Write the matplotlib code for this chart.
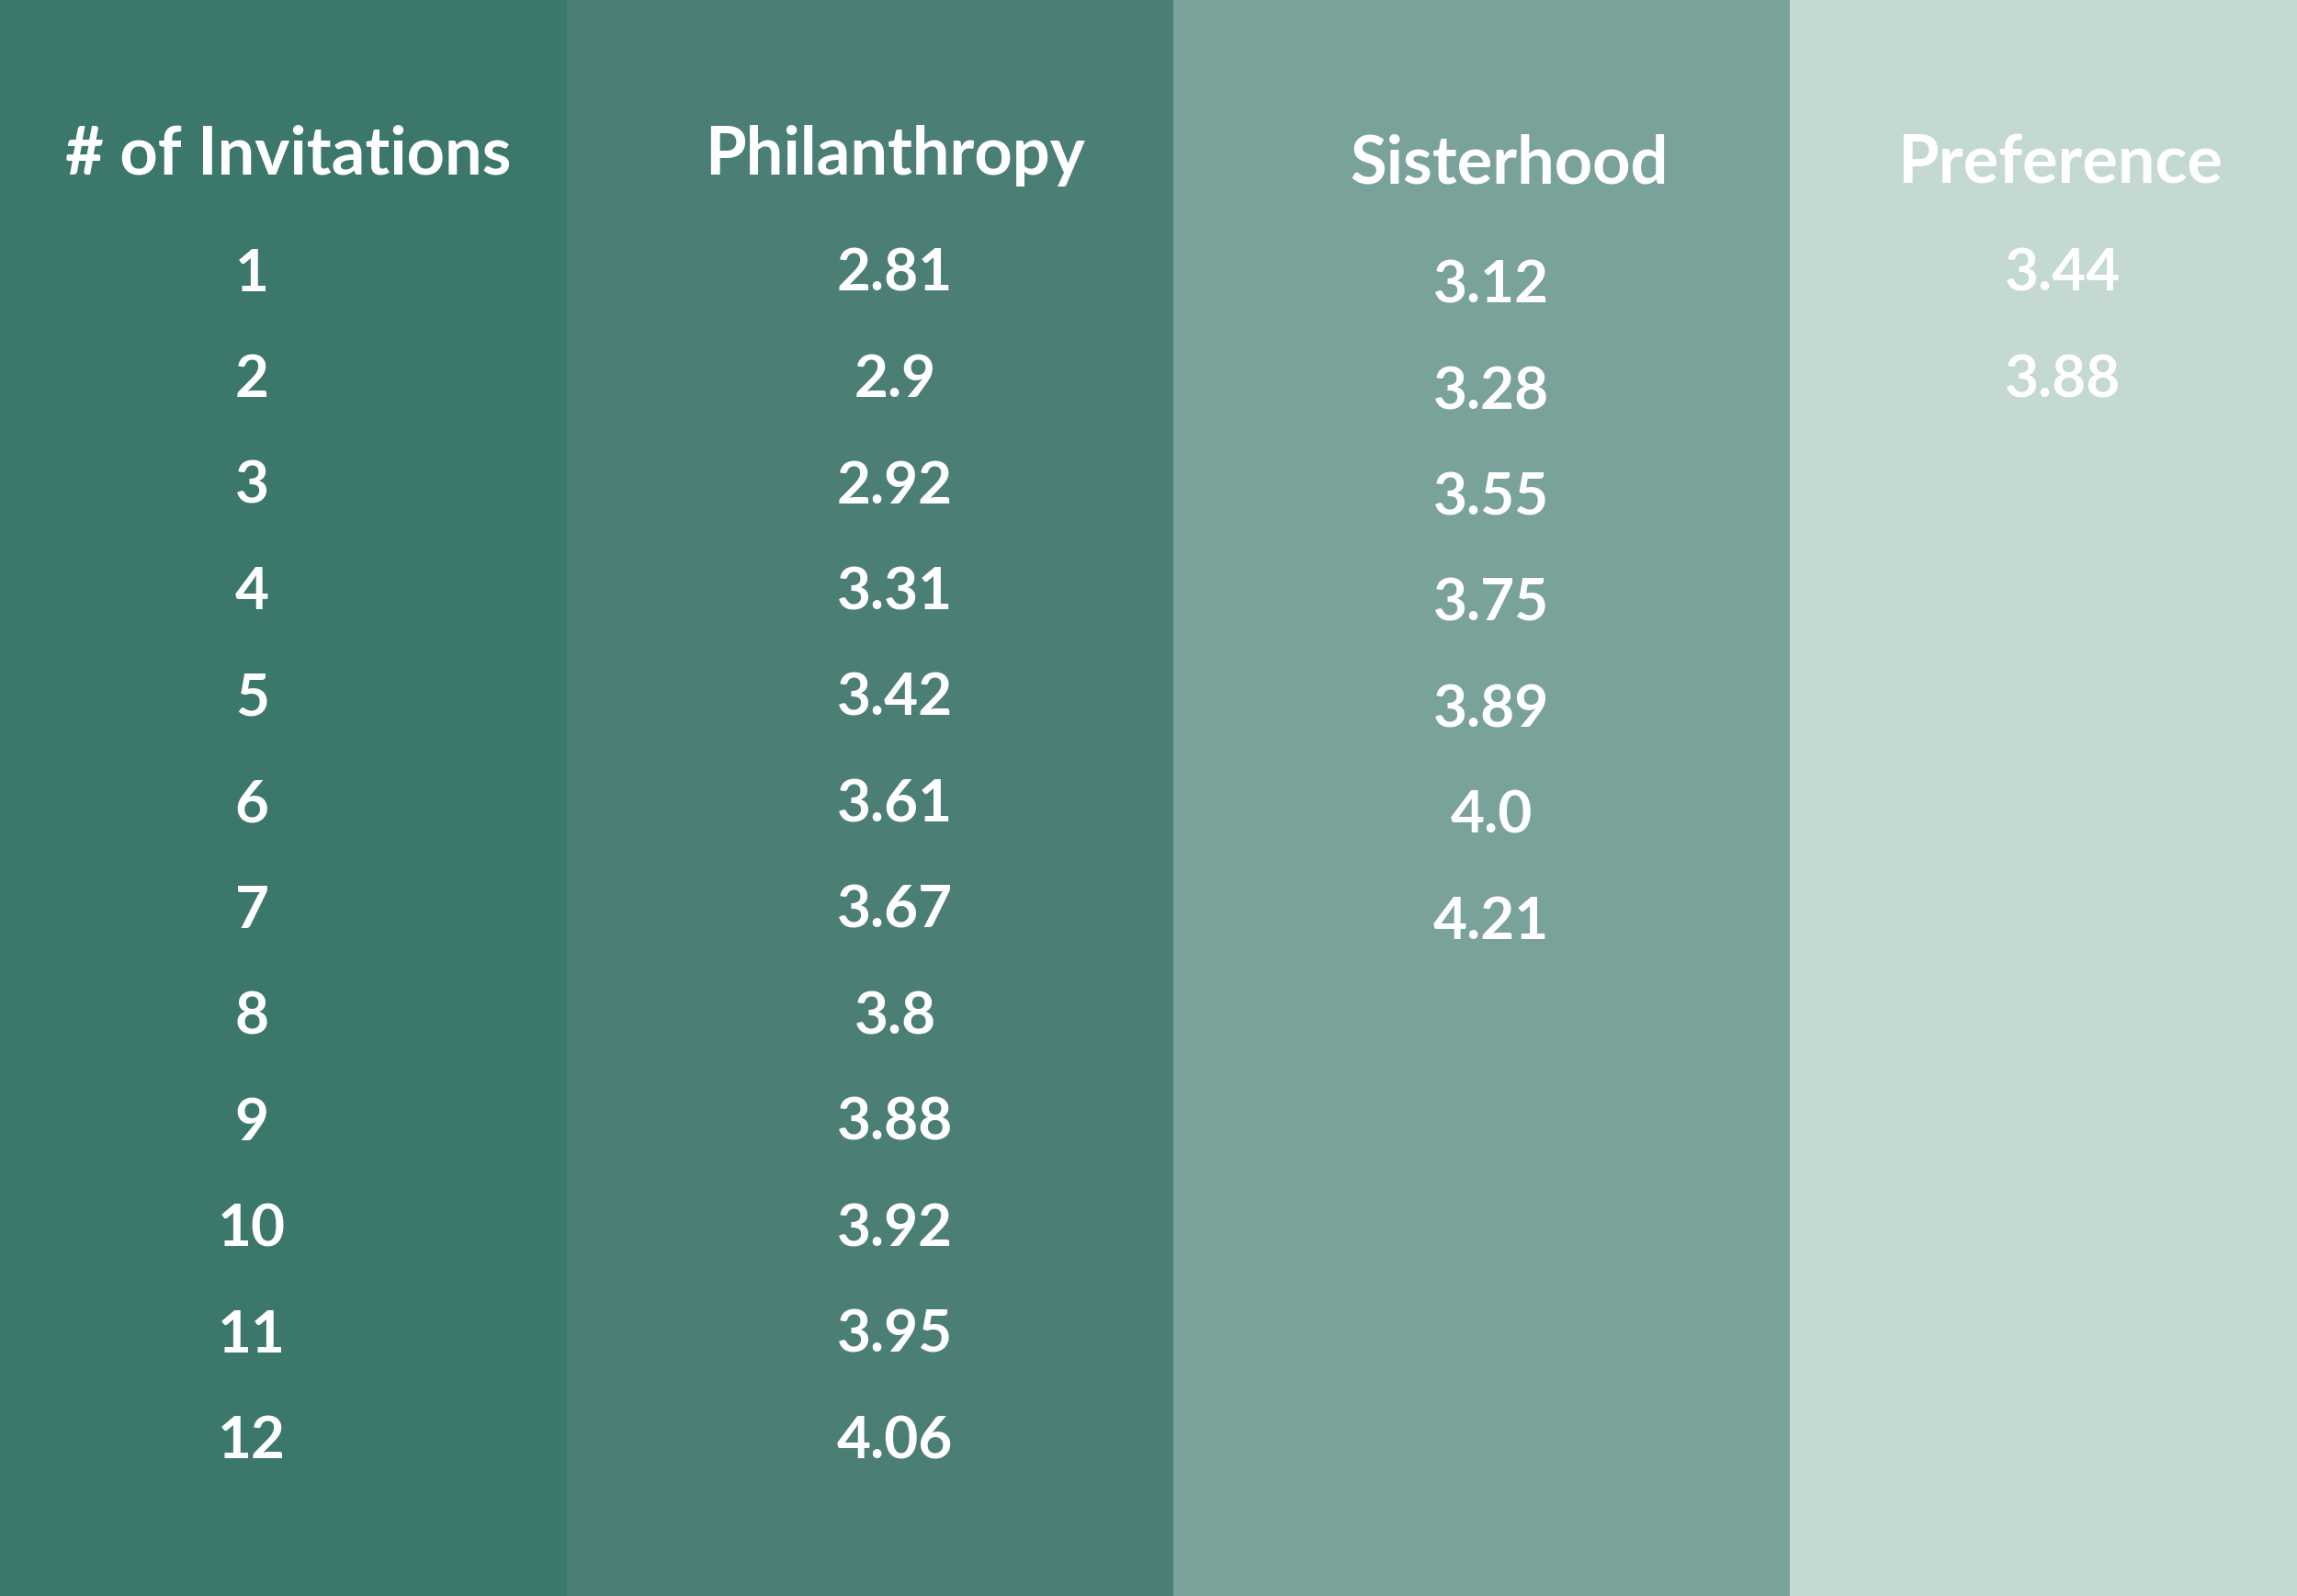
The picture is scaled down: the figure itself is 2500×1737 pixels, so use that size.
import matplotlib
matplotlib.use("Agg")
import matplotlib.pyplot as plt

headers = ["# of Invitations", "Philanthropy", "Sisterhood", "Preference"]
invitations = ["1", "2", "3", "4", "5", "6", "7", "8", "9", "10", "11", "12"]
philanthropy = ["2.81", "2.9", "2.92", "3.31", "3.42", "3.61", "3.67", "3.8", "3.88", "3.92", "3.95", "4.06"]
sisterhood = ["3.12", "3.28", "3.55", "3.75", "3.89", "4.0", "4.21"]
preference = ["3.44", "3.88"]

col_edges = [0, 387, 801, 1222, 1568]
col_colors = ["#3B776A", "#4B7F76", "#79A29B", "#C4D8D4"]
col_centers = [172, 611, 1018, 1408]
header_y = [106, 106, 112, 112]
header_x = [197, 611, 1030, 1406]
row_start = [187, 187, 195, 187]
row_step = 72.4

fig = plt.figure(figsize=(25, 17.37), dpi=100)
ax = fig.add_axes([0, 0, 1, 1])
ax.set_xlim(0, 1568)
ax.set_ylim(1089, 0)
ax.axis("off")

for i in range(4):
    ax.axvspan(col_edges[i], col_edges[i + 1], color=col_colors[i], lw=0)

font = "Lato"
cols = [invitations, philanthropy, sisterhood, preference]
for i, h in enumerate(headers):
    ax.text(header_x[i], header_y[i], h, ha="center", va="center", color="white",
            fontsize=52, fontweight="bold", family=font)
    for j, v in enumerate(cols[i]):
        ax.text(col_centers[i], row_start[i] + j * row_step, v, ha="center", va="center",
                color="white", fontsize=46, fontweight="bold", family=font)

fig.savefig("out.png", dpi=100)
